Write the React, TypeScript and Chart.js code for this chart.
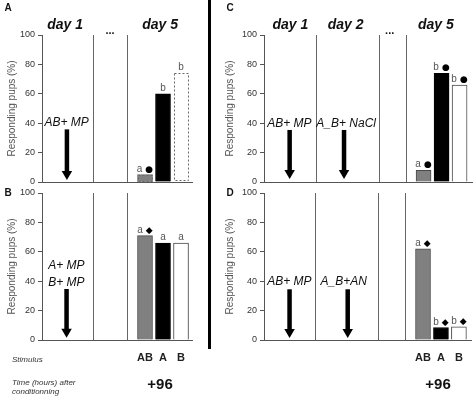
import React, { useEffect, useRef } from 'react';
import { Chart, registerables } from 'chart.js';

Chart.register(...registerables);

const SANS = 'Arial, "Liberation Sans", sans-serif';
const SYM_FONT = '"DejaVu Sans", sans-serif';

// ---- data ----
const STIMULI = ['AB', 'A', 'B'];
const Y_TICKS = [0, 20, 40, 60, 80, 100];
const VALUES_A = [5, 60, 74];
const VALUES_B = [71, 66, 66];
const VALUES_C = [8, 74, 66];
const VALUES_D = [62, 8.5, 9];
const LETTERS_A = ['a', 'b', 'b'];
const SYMBOLS_A = ['●', '', ''];
const LETTERS_B = ['a', 'a', 'a'];
const SYMBOLS_B = ['◆', '', ''];
const LETTERS_C = ['a', 'b', 'b'];
const SYMBOLS_C = ['●', '●', '●'];
const LETTERS_D = ['a', 'b', 'b'];
const SYMBOLS_D = ['◆', '◆', '◆'];
const Y_TITLE = 'Responding pups (%)';

const BAR_FILLS = ['#808080', '#000000', '#ffffff'];
const BAR_BORDERS = ['#4a4a4a', '#000000', '#4a4a4a'];

type Arrow = { v: number; tv: number; lines: [string, number][]; top: number; tip: number };
type Spec = {
  left: number; top: number; width: number; height: number;
  padTop: number; padRight: number; yAxisW: number; xAxisH: number; titlePad: number;
  xMin: number; xMax: number;
  values: number[]; letters: string[]; symbols: string[]; dashed: boolean[];
  dividers: number[]; days: [number, string][]; dots: number | null;
  arrows: Arrow[]; showX: boolean;
};

const SPECS: Spec[] = [
  {
    left: 0, top: 0, width: 209, height: 195, padTop: 35, padRight: 17, yAxisW: 42, xAxisH: 13, titlePad: 6,
    xMin: -5.72, xMax: 2.61, values: VALUES_A, letters: LETTERS_A, symbols: SYMBOLS_A,
    dashed: [true, false, true], dividers: [-2.9, -1], days: [[-4.44, 'day 1'], [0.84, 'day 5']], dots: -1.94,
    arrows: [{ v: -4.35, tv: -4.35, lines: [['AB+ MP', 40.3]], top: 35.8, tip: 1.4 }], showX: false,
  },
  {
    left: 0, top: 180, width: 209, height: 219, padTop: 13, padRight: 17, yAxisW: 42, xAxisH: 59, titlePad: 6,
    xMin: -5.72, xMax: 2.61, values: VALUES_B, letters: LETTERS_B, symbols: SYMBOLS_B,
    dashed: [false, false, false], dividers: [-2.9, -1], days: [], dots: null,
    arrows: [{ v: -4.37, tv: -4.37, lines: [['A+ MP', 50.5], ['B+ MP', 39.2]], top: 34.7, tip: 1.6 }], showX: true,
  },
  {
    left: 214, top: 0, width: 260, height: 195, padTop: 35, padRight: 2, yAxisW: 50, xAxisH: 13, titlePad: 10,
    xMin: -8.86, xMax: 2.69, values: VALUES_C, letters: LETTERS_C, symbols: SYMBOLS_C,
    dashed: [false, false, false], dividers: [-6, -2.5, -1],
    days: [[-7.4, 'day 1'], [-4.33, 'day 2'], [0.68, 'day 5']], dots: -1.88,
    arrows: [
      { v: -7.45, tv: -7.45, lines: [['AB+ MP', 39.9]], top: 35.4, tip: 2 },
      { v: -4.43, tv: -4.3, lines: [['A_B+ NaCl', 39.9]], top: 35.4, tip: 2 },
    ], showX: false,
  },
  {
    left: 214, top: 180, width: 260, height: 219, padTop: 13, padRight: 2, yAxisW: 50, xAxisH: 59, titlePad: 10,
    xMin: -8.86, xMax: 2.69, values: VALUES_D, letters: LETTERS_D, symbols: SYMBOLS_D,
    dashed: [false, false, false], dividers: [-6, -2.5, -1], days: [], dots: null,
    arrows: [
      { v: -7.45, tv: -7.45, lines: [['AB+ MP', 39.7]], top: 34.5, tip: 1.4 },
      { v: -4.21, tv: -4.42, lines: [['A_B+AN', 39.7]], top: 34.5, tip: 1.4 },
    ], showX: true,
  },
];

function decoPlugin(spec: Spec) {
  return {
    id: 'deco',
    afterDatasetsDraw(chart: any) {
      const { ctx, chartArea, scales } = chart;
      const x = scales.x, y = scales.y;
      ctx.save();
      // dividers
      ctx.strokeStyle = '#666';
      ctx.lineWidth = 1;
      spec.dividers.forEach((v) => {
        const px = Math.round(x.getPixelForValue(v)) + 0.5;
        ctx.beginPath();
        ctx.moveTo(px, chartArea.top);
        ctx.lineTo(px, chartArea.bottom);
        ctx.stroke();
      });
      // bars: dashed outlines and labels
      const meta = chart.getDatasetMeta(0);
      meta.data.forEach((bar: any, i: number) => {
        const p = bar.getProps(['x', 'y', 'base', 'width'], true);
        if (spec.dashed[i]) {
          ctx.save();
          ctx.setLineDash([2, 2]);
          ctx.strokeStyle = '#6a6a6a';
          ctx.lineWidth = 1;
          ctx.strokeRect(Math.round(p.x - p.width / 2) + 0.5, Math.round(p.y) + 0.5, Math.round(p.width) - 1, Math.round(p.base - p.y) - 1);
          ctx.restore();
        }
        const letter = spec.letters[i];
        const sym = spec.symbols[i];
        ctx.font = `10px ${SANS}`;
        const wl = ctx.measureText(letter).width;
        ctx.font = `9px ${SYM_FONT}`;
        const ws = sym ? ctx.measureText(sym).width : 0;
        const gap = sym ? 3 : 0;
        const total = wl + gap + ws;
        const sx = p.x - total / 2;
        const by = p.y - 3;
        ctx.textAlign = 'left';
        ctx.textBaseline = 'alphabetic';
        ctx.fillStyle = '#555';
        ctx.font = `10px ${SANS}`;
        ctx.fillText(letter, sx, by);
        if (sym) {
          ctx.fillStyle = '#000';
          ctx.font = `9px ${SYM_FONT}`;
          ctx.fillText(sym, sx + wl + gap, by);
        }
      });
      // day labels
      ctx.fillStyle = '#111';
      ctx.textAlign = 'center';
      ctx.textBaseline = 'middle';
      ctx.font = `italic bold 14px ${SANS}`;
      spec.days.forEach(([v, t]) => {
        ctx.fillText(t, x.getPixelForValue(v), chartArea.top - 10);
      });
      if (spec.dots !== null) {
        ctx.font = `bold 11px ${SANS}`;
        ctx.textBaseline = 'alphabetic';
        ctx.fillText('...', x.getPixelForValue(spec.dots), chartArea.top - 1);
      }
      // arrows with labels
      spec.arrows.forEach((a) => {
        ctx.fillStyle = '#111';
        ctx.font = `italic 12px ${SANS}`;
        ctx.textAlign = 'center';
        ctx.textBaseline = 'middle';
        a.lines.forEach(([t, yv]) => ctx.fillText(t, x.getPixelForValue(a.tv), y.getPixelForValue(yv)));
        const ax = x.getPixelForValue(a.v);
        const ty = y.getPixelForValue(a.top);
        const tipY = y.getPixelForValue(a.tip);
        const headLen = 9;
        ctx.fillStyle = '#000';
        ctx.fillRect(ax - 2, ty, 4.5, tipY - headLen - ty + 1);
        ctx.beginPath();
        ctx.moveTo(ax - 5, tipY - headLen);
        ctx.lineTo(ax + 5.5, tipY - headLen);
        ctx.lineTo(ax + 0.25, tipY);
        ctx.closePath();
        ctx.fill();
      });
      ctx.restore();
    },
  };
}

function Panel({ spec }: { spec: Spec }) {
  const ref = useRef<HTMLCanvasElement>(null);
  useEffect(() => {
    const chart = new Chart(ref.current as HTMLCanvasElement, {
      type: 'bar',
      data: {
        datasets: [
          {
            data: spec.values.map((v, i) => ({ x: i, y: v })),
            backgroundColor: BAR_FILLS,
            borderColor: spec.dashed.map((d, i) => (d ? 'rgba(0,0,0,0)' : BAR_BORDERS[i])),
            borderWidth: spec.dashed.map((d) => (d ? 0 : 1)),
            barThickness: 15,
          } as any,
        ],
      },
      options: {
        animation: false,
        responsive: false,
        devicePixelRatio: 1,
        events: [],
        layout: { padding: { top: spec.padTop, right: spec.padRight, bottom: 0, left: 0 } },
        plugins: { legend: { display: false }, tooltip: { enabled: false } },
        scales: {
          x: {
            type: 'linear',
            min: spec.xMin,
            max: spec.xMax,
            offset: false,
            grid: { display: false, drawTicks: false },
            border: { display: true, color: '#555', width: 1 },
            afterBuildTicks: (s: any) => {
              s.ticks = STIMULI.map((_, i) => ({ value: i }));
            },
            afterFit: (s: any) => {
              s.height = spec.xAxisH;
            },
            ticks: {
              display: spec.showX,
              autoSkip: false,
              maxRotation: 0,
              padding: 11,
              color: '#222',
              font: { family: SANS, size: 11, weight: 'bold' },
              callback: (v: any) => STIMULI[v as number] ?? '',
            },
          },
          y: {
            type: 'linear',
            min: 0,
            max: 100,
            afterBuildTicks: (s: any) => {
              s.ticks = Y_TICKS.map((v) => ({ value: v }));
            },
            afterFit: (s: any) => {
              s.width = spec.yAxisW;
            },
            grid: { display: true, drawOnChartArea: false, drawTicks: true, tickLength: 4, color: '#555' },
            border: { display: true, color: '#555', width: 1 },
            ticks: { color: '#333', padding: 3, font: { family: SANS, size: 9 } },
            title: {
              display: true,
              text: Y_TITLE,
              color: '#555',
              font: { family: SANS, size: 10 },
              padding: { top: spec.titlePad, bottom: 0 },
            },
          },
        },
      } as any,
      plugins: [decoPlugin(spec)],
    });
    return () => chart.destroy();
  }, [spec]);
  return (
    <div style={{ position: 'absolute', left: spec.left, top: spec.top, width: spec.width, height: spec.height }}>
      <canvas ref={ref} width={spec.width} height={spec.height} style={{ display: 'block' }} />
    </div>
  );
}

function Txt({ x, y, children, style, align = 'center' }: any) {
  return (
    <div
      style={{
        position: 'absolute',
        left: x,
        top: y,
        transform: `translate(${align === 'center' ? '-50%' : '0'}, -50%)`,
        whiteSpace: 'nowrap',
        lineHeight: 1,
        fontFamily: SANS,
        color: '#111',
        ...style,
      }}
    >
      {children}
    </div>
  );
}

export default function App() {
  return (
    <div style={{ position: 'fixed', left: 0, top: 0, width: 474, height: 399, background: '#fff', overflow: 'hidden' }}>
      {SPECS.map((s, i) => (
        <Panel key={i} spec={s} />
      ))}
      <div style={{ position: 'absolute', left: 208, top: 0, width: 3, height: 349, background: '#000' }} />
      <Txt x={8} y={8} style={{ fontWeight: 'bold', fontSize: 10 }}>A</Txt>
      <Txt x={8} y={193} style={{ fontWeight: 'bold', fontSize: 10 }}>B</Txt>
      <Txt x={230} y={8} style={{ fontWeight: 'bold', fontSize: 10 }}>C</Txt>
      <Txt x={230} y={193} style={{ fontWeight: 'bold', fontSize: 10 }}>D</Txt>
      <Txt x={12} y={360} align="left" style={{ fontStyle: 'italic', fontSize: 8, color: '#333' }}>Stimulus</Txt>
      <Txt x={12} y={383} align="left" style={{ fontStyle: 'italic', fontSize: 8, color: '#333' }}>Time (hours) after</Txt>
      <Txt x={12} y={392} align="left" style={{ fontStyle: 'italic', fontSize: 8, color: '#333' }}>conditionning</Txt>
      <Txt x={160} y={383} style={{ fontWeight: 'bold', fontSize: 15 }}>+96</Txt>
      <Txt x={438} y={383} style={{ fontWeight: 'bold', fontSize: 15 }}>+96</Txt>
    </div>
  );
}
